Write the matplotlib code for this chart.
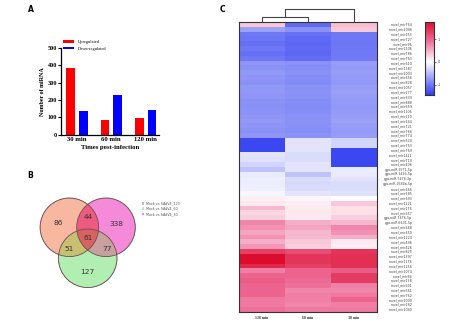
import numpy as np
import matplotlib
matplotlib.use('Agg')
import matplotlib.pyplot as plt
from matplotlib.colors import LinearSegmentedColormap, to_rgba
from matplotlib.patches import Circle, Rectangle

# ---- data ----
times = ['30 min', '60 min', '120 min']
upregulated = [383, 83, 97]
downregulated = [135, 230, 142]

venn_counts = {'1': 86, '12': 44, '2': 338, '123': 61, '13': 51, '23': 77, '3': 127}
venn_sets = ['Mock vs SAdV4_120', 'Mock vs SAdV4_60', 'Mock vs SAdV4_30']

heat_cols = ['120 min', '60 min', '30 min']
row_labels = [
    'novel_mir764', 'novel_mir2006', 'novel_mir153', 'novel_mir727', 'novel_mir96',
    'novel_mir1306', 'novel_mir786', 'novel_mir763', 'novel_mir610', 'novel_mir1387',
    'novel_mir1003', 'novel_mir456', 'novel_mir828', 'novel_mir1057', 'novel_mir277',
    'novel_mir639', 'novel_mir888', 'novel_mir659', 'novel_mir1106', 'novel_mir210',
    'novel_mir644', 'novel_mir721', 'novel_mir766', 'novel_mir774', 'novel_mir520',
    'novel_mir753', 'novel_mir769', 'novel_mir1411', 'novel_mir719', 'novel_mir406',
    'gga-miR-1571-5p', 'gga-miR-1416-5p', 'gga-miR-7476-3p', 'gga-miR-1684a-5p', 'novel_mir666',
    'novel_mir585', 'novel_mir693', 'novel_mir1221', 'novel_mir176', 'novel_mir657',
    'gga-miR-7476-5p', 'gga-miR-6631-5p', 'novel_mir668', 'novel_mir450', 'novel_mir1224',
    'novel_mir496', 'novel_mir426', 'novel_mir825', 'novel_mir1397', 'novel_mir1176',
    'novel_mir1256', 'novel_mir1074', 'novel_mir84', 'novel_mir138', 'novel_mir601',
    'novel_mir561', 'novel_mir762', 'novel_mir1000', 'novel_mir282', 'novel_mir1040',
]
# z-scores per row: 120 min, 60 min, 30 min
col_120 = [0.35, -0.70, -1.00, -1.02, -1.05, -1.00, -1.05, -1.00, -0.78, -0.80,
           -0.76, -0.78, -0.80, -0.77, -0.75, -0.78, -0.80, -0.82, -0.80, -0.78,
           -0.76, -0.78, -0.80, -0.78, -1.35, -1.35, -1.35, -0.20, -0.22, -0.30,
           -0.45, -0.15, -0.12, -0.12, -0.10, -0.05, 0.10, 0.15, 0.45, 0.25,
           0.30, 0.75, 0.70, 0.55, 0.70, 0.50, 0.65, 1.30, 1.75, 1.75,
           1.50, 0.80, 1.00, 1.05, 1.00, 1.00, 1.00, 0.85, 0.85, 0.90]
col_60 = [-1.10, -0.80, -1.05, -1.10, -1.12, -1.10, -1.12, -1.08, -0.82, -0.84,
          -0.82, -0.84, -0.85, -0.82, -0.80, -0.82, -0.84, -0.86, -0.84, -0.82,
          -0.80, -0.82, -0.84, -0.80, -0.20, -0.20, -0.20, -0.25, -0.25, -0.20,
          -0.20, -0.45, -0.25, -0.28, -0.25, -0.20, 0.05, 0.10, 0.12, 0.15,
          0.15, 0.50, 0.55, 0.45, 0.45, 0.35, 0.30, 1.20, 1.40, 1.40,
          1.30, 1.00, 1.00, 0.95, 0.90, 0.75, 0.80, 0.80, 0.75, 0.85]
col_30 = [0.40, 0.35, -1.00, -1.00, -1.02, -1.00, -0.98, -0.98, -0.72, -0.74,
          -0.72, -0.74, -0.75, -0.72, -0.70, -0.72, -0.74, -0.76, -0.74, -0.72,
          -0.70, -0.72, -0.74, -0.72, -0.30, -0.30, -1.35, -1.35, -1.35, -1.35,
          -0.15, -0.15, -0.20, -0.25, -0.25, -0.22, 0.00, 0.35, 0.20, 0.20,
          0.30, 0.45, 0.75, 0.70, 0.50, 0.15, 0.10, 1.40, 1.45, 1.45,
          1.45, 1.05, 1.35, 1.35, 0.80, 0.75, 0.85, 1.00, 0.80, 0.85]
dendro_heights = [1.0, 2.5]   # merge (120,60) then with 30

W, H = 474, 333
fig = plt.figure(figsize=(W / 100, H / 100), dpi=100)


def px(l, t, r, b):
    return [l / W, 1 - b / H, (r - l) / W, (b - t) / H]


serif = 'Liberation Serif'

# ---- panel letters ----
for txt, x, y in [('A', 30.5, 10), ('B', 30.5, 176), ('C', 222.5, 9.5)]:
    fig.text(x / W, 1 - y / H, txt, fontsize=5.5, fontweight='bold', ha='center', va='center')

# ---- A: bar chart ----
ax = fig.add_axes(px(61, 48, 159, 134.7))
x = np.arange(len(times))
ax.bar(x - 0.185, upregulated, width=0.25, color='#ff0000', label='Upregulated')
ax.bar(x + 0.185, downregulated, width=0.25, color='#0000ff', label='Down-regulated')
ax.set_xlim(-0.466, 2.39)
ax.set_ylim(0, 500)
ax.set_yticks([0, 100, 200, 300, 400, 500])
ax.set_xticks(x)
ax.set_xticklabels(times)
for s in ['top', 'right']:
    ax.spines[s].set_visible(False)
for s in ['left', 'bottom']:
    ax.spines[s].set_linewidth(0.9)
ax.tick_params(axis='y', length=2, width=0.8, pad=1, labelsize=4.5)
ax.tick_params(axis='x', length=0, pad=2, labelsize=4.8)
for lab in ax.get_xticklabels() + ax.get_yticklabels():
    lab.set_fontfamily(serif)
    lab.set_fontweight('bold')
ax.set_xlabel('Times post-infection', fontsize=4.8, fontweight='bold', family=serif, labelpad=1.5)
ax.set_ylabel('Number of miRNA', fontsize=4.3, fontweight='bold', family=serif, labelpad=1.5)
ax.legend(loc='lower left', bbox_to_anchor=(0.02, 0.97), frameon=False,
          prop={'family': serif, 'size': 3.2}, handlelength=2.5, handleheight=0.6,
          labelspacing=0.5, handletextpad=0.8, borderpad=0, borderaxespad=0)

# ---- B: venn ----
vax = fig.add_axes([0, 0, 1, 1])
vax.set_xlim(0, W)
vax.set_ylim(H, 0)
vax.axis('off')
vcx, vcy, vd, vr = 87.7, 237.7, 18.3, 29.3
centres = [(vcx - vd, vcy - 10.4), (vcx + vd, vcy - 10.4), (vcx, vcy + 20.6)]
region_colors = {'1': '#f8b8a2', '2': '#f58ad8', '3': '#b0f0b2', '12': '#ee5a80',
                 '13': '#c8c074', '23': '#c8a0a0', '123': '#d86262'}
# fill each region with its own colour on a fine grid
x0, x1, y0, y1 = 35, 140, 195, 300
gx, gy = np.meshgrid(np.linspace(x0, x1, 525), np.linspace(y0, y1, 525))
inside = [(gx - cx) ** 2 + (gy - cy) ** 2 <= vr ** 2 for cx, cy in centres]
img = np.zeros(gx.shape + (4,))
for key, c in region_colors.items():
    mask = np.ones(gx.shape, bool)
    for k in range(3):
        mask &= inside[k] if str(k + 1) in key else ~inside[k]
    img[mask] = to_rgba(c)
vax.imshow(img, extent=[x0, x1, y1, y0], origin='upper', interpolation='bilinear')
vax.set_xlim(0, W)
vax.set_ylim(H, 0)
vax.set_aspect('auto')
for (cx, cy) in centres:
    vax.add_patch(Circle((cx, cy), vr, facecolor='none', edgecolor='#6a5050', lw=0.6))
label_pos = {'1': (58.3, 222.7), '12': (88.3, 216.7), '2': (116.7, 224.3), '123': (88.3, 238.3),
             '13': (69, 249), '23': (107.3, 249.3), '3': (87.3, 271.7)}
for k, v in venn_counts.items():
    vx, vy = label_pos[k]
    vax.text(vx, vy, str(v), fontsize=5.3, color='#333333', ha='center', va='center')
leg_colors = ['#d9b9a3', '#b2efc0', '#f48ad4']
for i, (name, c) in enumerate(zip(venn_sets, leg_colors)):
    yy = 203.3 + 5.3 * i
    vax.add_patch(Rectangle((141.7, yy - 1.3), 2.6, 2.6, facecolor=c, edgecolor='none'))
    vax.text(146, yy, name, fontsize=2.4, color='#555555', va='center', ha='left')

# ---- C: heatmap ----
data = np.array([col_120, col_60, col_30]).T
cmap = LinearSegmentedColormap.from_list(
    'hm', [(0, '#2f3cf0'), (0.453, '#ffffff'), (0.74, '#ee6e9a'), (1, '#dc0c2c')])
vmin, vmax = -1.45, 1.75
hax = fig.add_axes(px(238.5, 22.3, 376.5, 312.1))
hax.imshow(data, cmap=cmap, vmin=vmin, vmax=vmax, aspect='auto', interpolation='nearest')
hax.set_xticks([])
hax.set_yticks([])
for s in hax.spines.values():
    s.set_linewidth(0.8)
    s.set_color('#333333')
for i, name in enumerate(row_labels):
    hax.text(1.26, i, name, transform=hax.get_yaxis_transform(), fontsize=2.3,
             color='#444444', ha='right', va='center')
for j, name in enumerate(heat_cols):
    hax.text(j, -0.02, name, transform=hax.get_xaxis_transform(), fontsize=2.8,
             fontweight='bold', family=serif, color='#333333', ha='center', va='center')
hax.set_ylim(len(row_labels) - 0.5, -0.5)

# dendrogram
dax = fig.add_axes(px(238.5, 5, 376.5, 22.3))
dax.set_xlim(-0.5, 2.5)
dax.set_ylim(0, dendro_heights[1] * 17.3 / 13.3)
dax.axis('off')
h1, h2 = dendro_heights
dc = '#444444'
dax.plot([0, 0, 1, 1], [0, h1, h1, 0], color=dc, lw=0.8)
dax.plot([0.5, 0.5, 2, 2], [h1, h2, h2, 0], color=dc, lw=0.8)

# colorbar
cax = fig.add_axes(px(425, 22, 434, 95))
grad = np.linspace(vmax, vmin, 256).reshape(-1, 1)
cax.imshow(grad, cmap=cmap, vmin=vmin, vmax=vmax, aspect='auto',
           extent=[0, 1, vmin, vmax], origin='upper')
cax.set_xticks([])
cax.yaxis.tick_right()
cax.set_yticks([1, 0, -1])
cax.set_yticklabels(['1', '0', '-1'])
cax.tick_params(axis='y', length=1.5, width=0.5, labelsize=2.5, pad=1, colors='#444444')
for s in cax.spines.values():
    s.set_linewidth(0.8)
    s.set_color('#333333')

fig.savefig('out.png', dpi=100)
